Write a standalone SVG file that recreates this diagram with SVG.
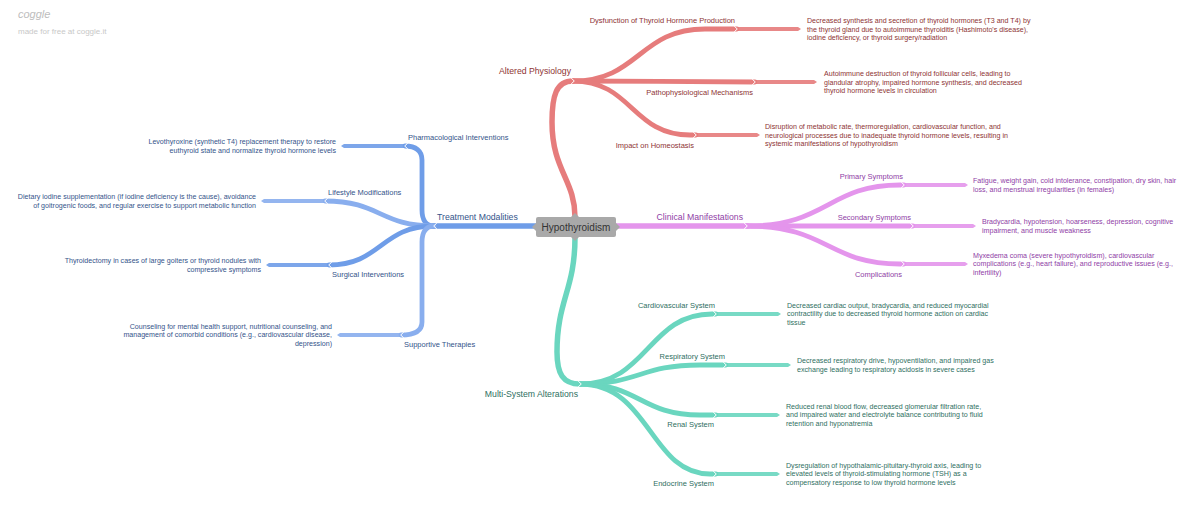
<svg xmlns="http://www.w3.org/2000/svg" xmlns:xlink="http://www.w3.org/1999/xlink" width="1200" height="507" viewBox="0 0 1200 507">
<style>
text{font-family:"Liberation Sans",Arial,sans-serif}
.ln{fill:none;stroke-linecap:round;stroke-linejoin:round}
.tr{stroke-width:5.5}
.br{stroke-width:4.8}
.lf{stroke-width:4;stroke-linecap:butt;opacity:.9}
.red{stroke:#e67c7c}
.blue{stroke:#6f9de8}
.blue2{stroke:#89aeee}
.pur{stroke:#e495ec}
.teal{stroke:#6ad6bf}
.top{font-size:8.7px}
.mid{font-size:7.5px}
.leaf{font-size:7.1px}
.tred{fill:#8e3434}
.tblue{fill:#34548a}
.tpur{fill:#8f3ea6}
.tteal{fill:#2f6f5f}
.chev{fill:none;stroke:#fff;stroke-width:1;stroke-linecap:round;stroke-linejoin:round}
</style>
<defs>
<path id="cr" d="M-2.5,-2.6 L0.3,0 L-2.5,2.6"/>
<path id="cl" d="M2.5,-2.6 L-0.3,0 L2.5,2.6"/>
<marker id="mred" markerUnits="userSpaceOnUse" viewBox="0 -3 4 6" refX="0" refY="0" markerWidth="4" markerHeight="6" orient="auto"><path d="M0,-2 L3,0 L0,2 Z" fill="#e67c7c"/></marker>
<marker id="mblue" markerUnits="userSpaceOnUse" viewBox="0 -3 4 6" refX="0" refY="0" markerWidth="4" markerHeight="6" orient="auto"><path d="M0,-2 L3,0 L0,2 Z" fill="#6f9de8"/></marker>
<marker id="mblue2" markerUnits="userSpaceOnUse" viewBox="0 -3 4 6" refX="0" refY="0" markerWidth="4" markerHeight="6" orient="auto"><path d="M0,-2 L3,0 L0,2 Z" fill="#89aeee"/></marker>
<marker id="mpur" markerUnits="userSpaceOnUse" viewBox="0 -3 4 6" refX="0" refY="0" markerWidth="4" markerHeight="6" orient="auto"><path d="M0,-2 L3,0 L0,2 Z" fill="#e495ec"/></marker>
<marker id="mteal" markerUnits="userSpaceOnUse" viewBox="0 -3 4 6" refX="0" refY="0" markerWidth="4" markerHeight="6" orient="auto"><path d="M0,-2 L3,0 L0,2 Z" fill="#6ad6bf"/></marker>
</defs>
<rect width="1200" height="507" fill="#fff"/>
<g id="logo">
<text x="18" y="18" font-family="'DejaVu Serif',serif" font-style="italic" font-size="11" fill="#bdbdbd">coggle</text>
<text x="18" y="34" font-size="8" fill="#c8c8c8">made for free at coggle.it</text>
</g>
<g id="connectors">
<!-- red -->
<path class="ln tr red" d="M575,217 C575,180 552,170 552,122 C552,96 556,81 573,81"/>
<path class="ln br red" d="M573,81 C639,81 639,29 705,29 L737,29"/>
<path class="ln lf red" marker-end="url(#mred)" d="M737,29 L798,29"/>
<path class="ln br red" d="M573,81 C660,81 660,82 755,82"/>
<path class="ln lf red" marker-end="url(#mred)" d="M755,82 L814,82"/>
<path class="ln br red" d="M573,81 C632,81 632,135 690,135 L696,135"/>
<path class="ln lf red" marker-end="url(#mred)" d="M696,135 L757,135"/>
<!-- blue -->
<path class="ln tr blue" d="M536,226 L434,226"/>
<path class="ln br blue" d="M434,226 C426,226 422,220 422,210 L422,160 C422,151 416,146 405,146"/>
<path class="ln lf blue" marker-end="url(#mblue)" d="M405,146 L344,146"/>
<path class="ln br blue2" d="M434,226 C380,226 380,201 325,201"/>
<path class="ln lf blue2" marker-end="url(#mblue2)" d="M325,201 L264,201"/>
<path class="ln br blue" d="M434,226 C381,226 381,265 329,265"/>
<path class="ln lf blue" marker-end="url(#mblue)" d="M329,265 L269,265"/>
<path class="ln br blue2" d="M434,226 C426,226 422,232 422,242 L422,322 C422,331 415,335 401,335"/>
<path class="ln lf blue2" marker-end="url(#mblue2)" d="M401,335 L340,335"/>
<!-- purple -->
<path class="ln tr pur" d="M616,226 L747,226"/>
<path class="ln br pur" d="M747,226 C828,226 828,185 900,185 L904,185"/>
<path class="ln lf pur" marker-end="url(#mpur)" d="M904,185 L965,185"/>
<path class="ln br pur" d="M747,226 L913,226"/>
<path class="ln lf pur" marker-end="url(#mpur)" d="M913,226 L973,226"/>
<path class="ln br pur" d="M747,226 C828,226 828,264 900,264 L904,264"/>
<path class="ln lf pur" marker-end="url(#mpur)" d="M904,264 L965,264"/>
<!-- teal -->
<path class="ln tr teal" d="M575,237 C575,290 557,300 557,352 C557,374 563,384 580,384"/>
<path class="ln br teal" d="M580,384 C648,384 648,314 712,314 L716,314"/>
<path class="ln lf teal" marker-end="url(#mteal)" d="M716,314 L778,314"/>
<path class="ln br teal" d="M580,384 C640,384 640,365 700,365 L726,365"/>
<path class="ln lf teal" marker-end="url(#mteal)" d="M726,365 L788,365"/>
<path class="ln br teal" d="M580,384 C640,384 640,415 700,415 L716,415"/>
<path class="ln lf teal" marker-end="url(#mteal)" d="M716,415 L777,415"/>
<path class="ln br teal" d="M580,384 C650,384 650,474 710,474 L716,474"/>
<path class="ln lf teal" marker-end="url(#mteal)" d="M716,474 L777,474"/>
<!-- chevrons -->
<g class="chev">
<use xlink:href="#cr" x="574" y="81"/>
<use xlink:href="#cr" x="737" y="29"/>
<use xlink:href="#cr" x="755" y="82"/>
<use xlink:href="#cr" x="696" y="135"/>
<use xlink:href="#cr" x="747" y="226"/>
<use xlink:href="#cr" x="904" y="185"/>
<use xlink:href="#cr" x="913" y="226"/>
<use xlink:href="#cr" x="904" y="264"/>
<use xlink:href="#cr" x="581" y="384"/>
<use xlink:href="#cr" x="716" y="314"/>
<use xlink:href="#cr" x="726" y="365"/>
<use xlink:href="#cr" x="716" y="415"/>
<use xlink:href="#cr" x="716" y="474"/>
<use xlink:href="#cl" x="434" y="226"/>
<use xlink:href="#cl" x="405" y="146"/>
<use xlink:href="#cl" x="325" y="201"/>
<use xlink:href="#cl" x="329" y="265"/>
<use xlink:href="#cl" x="401" y="335"/>
</g>
</g>
<g id="root">
<rect x="536" y="217" width="80" height="20" rx="2" fill="#a9a9a9"/>
<path d="M536,223 L532,227 L536,231 Z M616,223 L620,227 L616,231 Z M571,217 L575,213 L579,217 Z M571,237 L575,241 L579,237 Z" fill="#a9a9a9"/>
<text x="576" y="230.6" font-size="10" fill="#333" text-anchor="middle">Hypothyroidism</text>
</g>
<g id="altered-physiology" class="tred">
<text class="top" x="571" y="74.2" text-anchor="end">Altered Physiology</text>
</g>
<g id="dysfunction" class="tred">
<text class="mid" x="735" y="22.6" text-anchor="end">Dysfunction of Thyroid Hormone Production</text>
<text class="leaf" x="807"><tspan x="807" y="22.9">Decreased synthesis and secretion of thyroid hormones (T3 and T4) by</tspan><tspan x="807" y="31.6">the thyroid gland due to autoimmune thyroiditis (Hashimoto's disease),</tspan><tspan x="807" y="40.3">iodine deficiency, or thyroid surgery/radiation</tspan></text>
</g>
<g id="pathophysiological" class="tred">
<text class="mid" x="753" y="94.6" text-anchor="end">Pathophysiological Mechanisms</text>
<text class="leaf"><tspan x="824" y="75.9">Autoimmune destruction of thyroid follicular cells, leading to</tspan><tspan x="824" y="84.6">glandular atrophy, impaired hormone synthesis, and decreased</tspan><tspan x="824" y="93.3">thyroid hormone levels in circulation</tspan></text>
</g>
<g id="homeostasis" class="tred">
<text class="mid" x="694" y="147.6" text-anchor="end">Impact on Homeostasis</text>
<text class="leaf"><tspan x="765" y="128.9">Disruption of metabolic rate, thermoregulation, cardiovascular function, and</tspan><tspan x="765" y="137.6">neurological processes due to inadequate thyroid hormone levels, resulting in</tspan><tspan x="765" y="146.3">systemic manifestations of hypothyroidism</tspan></text>
</g>
<g id="treatment-modalities" class="tblue">
<text class="top" x="437" y="219.6">Treatment Modalities</text>
</g>
<g id="pharmacological" class="tblue">
<text class="mid" x="408" y="139.6">Pharmacological Interventions</text>
<text class="leaf" text-anchor="end"><tspan x="336" y="144.4">Levothyroxine (synthetic T4) replacement therapy to restore</tspan><tspan x="336" y="153.1">euthyroid state and normalize thyroid hormone levels</tspan></text>
</g>
<g id="lifestyle" class="tblue">
<text class="mid" x="328" y="194.6">Lifestyle Modifications</text>
<text class="leaf" text-anchor="end"><tspan x="256" y="199.1">Dietary iodine supplementation (if iodine deficiency is the cause), avoidance</tspan><tspan x="256" y="207.8">of goitrogenic foods, and regular exercise to support metabolic function</tspan></text>
</g>
<g id="surgical" class="tblue">
<text class="mid" x="332" y="276.6">Surgical Interventions</text>
<text class="leaf" text-anchor="end"><tspan x="261" y="263.1">Thyroidectomy in cases of large goiters or thyroid nodules with</tspan><tspan x="261" y="271.8">compressive symptoms</tspan></text>
</g>
<g id="supportive" class="tblue">
<text class="mid" x="404" y="346.6">Supportive Therapies</text>
<text class="leaf" text-anchor="end"><tspan x="332" y="328.7">Counseling for mental health support, nutritional counseling, and</tspan><tspan x="332" y="337.4">management of comorbid conditions (e.g., cardiovascular disease,</tspan><tspan x="332" y="346.1">depression)</tspan></text>
</g>
<g id="clinical-manifestations" class="tpur">
<text class="top" x="743" y="219.6" text-anchor="end">Clinical Manifestations</text>
</g>
<g id="primary" class="tpur">
<text class="mid" x="903" y="178.6" text-anchor="end">Primary Symptoms</text>
<text class="leaf"><tspan x="973" y="183.1">Fatigue, weight gain, cold intolerance, constipation, dry skin, hair</tspan><tspan x="973" y="191.8">loss, and menstrual irregularities (in females)</tspan></text>
</g>
<g id="secondary" class="tpur">
<text class="mid" x="911" y="219.6" text-anchor="end">Secondary Symptoms</text>
<text class="leaf"><tspan x="982" y="224.1">Bradycardia, hypotension, hoarseness, depression, cognitive</tspan><tspan x="982" y="232.8">impairment, and muscle weakness</tspan></text>
</g>
<g id="complications" class="tpur">
<text class="mid" x="902" y="276.6" text-anchor="end">Complications</text>
<text class="leaf"><tspan x="973" y="257.7">Myxedema coma (severe hypothyroidism), cardiovascular</tspan><tspan x="973" y="266.4">complications (e.g., heart failure), and reproductive issues (e.g.,</tspan><tspan x="973" y="275.1">infertility)</tspan></text>
</g>
<g id="multi-system" class="tteal">
<text class="top" x="578" y="397.1" text-anchor="end">Multi-System Alterations</text>
</g>
<g id="cardiovascular" class="tteal">
<text class="mid" x="715" y="307.6" text-anchor="end">Cardiovascular System</text>
<text class="leaf"><tspan x="787" y="307.7">Decreased cardiac output, bradycardia, and reduced myocardial</tspan><tspan x="787" y="316.4">contractility due to decreased thyroid hormone action on cardiac</tspan><tspan x="787" y="325.1">tissue</tspan></text>
</g>
<g id="respiratory" class="tteal">
<text class="mid" x="725" y="358.6" text-anchor="end">Respiratory System</text>
<text class="leaf"><tspan x="797" y="363.1">Decreased respiratory drive, hypoventilation, and impaired gas</tspan><tspan x="797" y="371.8">exchange leading to respiratory acidosis in severe cases</tspan></text>
</g>
<g id="renal" class="tteal">
<text class="mid" x="714" y="426.6" text-anchor="end">Renal System</text>
<text class="leaf"><tspan x="786" y="408.7">Reduced renal blood flow, decreased glomerular filtration rate,</tspan><tspan x="786" y="417.4">and impaired water and electrolyte balance contributing to fluid</tspan><tspan x="786" y="426.1">retention and hyponatremia</tspan></text>
</g>
<g id="endocrine" class="tteal">
<text class="mid" x="714" y="485.6" text-anchor="end">Endocrine System</text>
<text class="leaf"><tspan x="786" y="467.7">Dysregulation of hypothalamic-pituitary-thyroid axis, leading to</tspan><tspan x="786" y="476.4">elevated levels of thyroid-stimulating hormone (TSH) as a</tspan><tspan x="786" y="485.1">compensatory response to low thyroid hormone levels</tspan></text>
</g>
</svg>
